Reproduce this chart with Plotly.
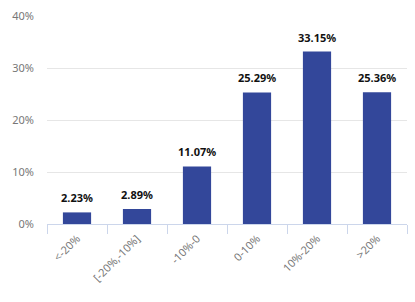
import plotly.graph_objects as go

categories = ["<-20%", "[-20%,-10%]", "-10%-0", "0-10%", "10%-20%", ">20%"]
values = [2.23, 2.89, 11.07, 25.29, 33.15, 25.36]
y_ticks = [0, 10, 20, 30, 40]
y_tick_labels = ["0%", "10%", "20%", "30%", "40%"]

FONT = "Noto Sans, DejaVu Sans, sans-serif"

fig = go.Figure(go.Bar(
    x=categories,
    y=values,
    marker=dict(color="#33479a", line=dict(width=0)),
    width=0.47,
))

for c, v in zip(categories, values):
    fig.add_annotation(
        x=c, y=v, text=f"<b>{v:.2f}%</b>",
        showarrow=False, yanchor="bottom", yshift=5,
        font=dict(family=FONT, size=11, color="#111111"),
    )

fig.update_layout(
    width=415, height=302,
    margin=dict(l=47, r=8, t=16, b=78),
    paper_bgcolor="white", plot_bgcolor="white",
    showlegend=False,
    font=dict(family=FONT, size=11, color="#666666"),
)
fig.update_xaxes(
    type="category",
    tickson="boundaries",
    ticks="outside", ticklen=9, tickcolor="#ccd6eb", tickwidth=1,
    showline=True, linecolor="#ccd6eb", linewidth=1,
    showgrid=False,
    tickangle=-45,
    ticklabelstandoff=3,
    tickfont=dict(size=11, color="#777777"),
)
fig.update_yaxes(
    range=[0, 40],
    tickvals=y_ticks, ticktext=y_tick_labels,
    showgrid=True, gridcolor="#e6e6e6", gridwidth=1,
    zeroline=False, showline=False,
    ticks="", ticklabelstandoff=12,
    tickfont=dict(size=11, color="#777777"),
)

fig.write_html("out.html")
